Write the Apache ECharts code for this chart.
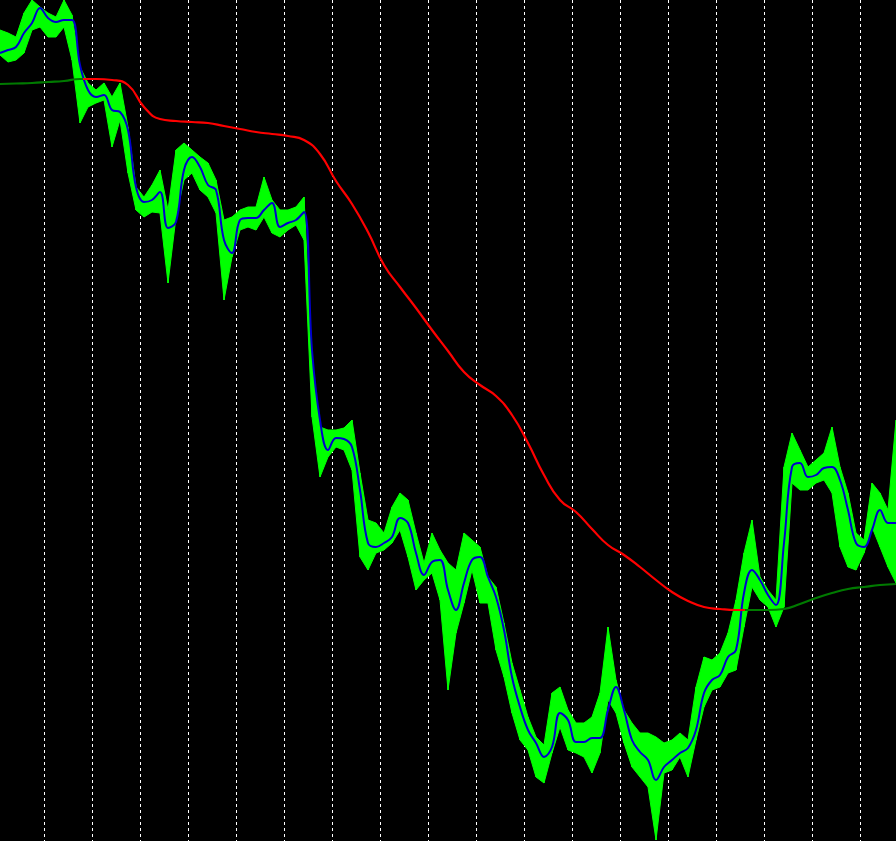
<!DOCTYPE html>
<html>
<head>
<meta charset="utf-8">
<script src="https://cdn.jsdelivr.net/npm/echarts@6/dist/echarts.min.js"></script>
<style>
html,body{margin:0;padding:0;background:#000;overflow:hidden;width:896px;height:841px;}
#chart{width:900px;height:841px;margin-left:-4px;}
</style>
</head>
<body>
<div id="chart"></div>
<script>
// Price bars sampled every 8 time units (top = high, bottom = low; axis runs downward)
const barHigh = [30,33,37,13,0,7,13,17,0,15,67,83,90,83,97,83,127,187,197,185,170,210,150,143,150,157,163,180,220,217,210,207,207,177,200,210,210,207,197,360,427,430,430,428,420,473,520,523,533,507,493,500,533,563,533,550,563,570,533,540,547,577,587,623,663,690,717,737,745,693,687,710,723,723,717,693,627,680,710,723,733,733,737,743,740,733,740,687,657,660,653,633,600,553,520,577,590,600,467,433,450,467,460,453,427,467,493,533,540,483,493,510,420];
const barLow  = [55,62,60,53,30,27,37,37,27,60,123,107,103,100,147,120,173,210,217,212,213,283,217,180,173,190,197,213,300,257,230,227,230,217,233,237,230,225,240,417,477,457,447,450,470,557,570,553,550,543,530,557,590,580,573,600,690,633,603,570,603,603,650,677,713,740,750,777,783,753,727,750,753,757,773,753,700,713,743,767,777,787,840,773,770,757,777,740,707,690,687,673,670,627,587,600,607,627,607,483,490,490,483,480,493,547,567,570,553,527,547,567,583];
const fastMA  = [53,50,47,33,23,8,18,22,20,20,65,90,97,95,110,112,130,187,202,200,192,228,222,170,157,167,185,190,240,253,220,218,218,210,203,227,223,220,212,350,420,450,438,439,447,490,543,547,543,537,518,523,553,575,562,560,590,610,583,560,557,577,597,630,677,707,730,743,757,747,713,720,742,742,738,738,710,687,710,740,752,760,780,767,760,753,748,730,693,680,675,657,650,593,570,580,595,605,543,467,463,477,475,468,467,480,510,543,547,530,510,523,523];
// Long moving average sampled every 16 time units
const slowMA  = [84,83.5,83,82,81,79,79,80,85,107,119,121,122,123,126,129,132,134,136,140,154,181,204,232,265,287,308,330,351,372,385,396,415,443,475,500,512,529,545,555,567,580,592,601,607,609,610,610,610,609,604,598,593,589,587,585,584];
// spacing of vertical separators (time units)
const sepInterval = 48;
const T0 = 4, STEP = 8, STEP_SLOW = 16;

const bandData = barHigh.map((h, i) => [T0 + i * STEP, h, barLow[i]]);
const fastData = fastMA.map((v, i) => [T0 + i * STEP, v]);
const slowData = slowMA.map((v, i) => [T0 + i * STEP_SLOW, v]);

const chart = echarts.init(document.getElementById('chart'), null, {renderer: 'canvas'});
chart.setOption({
  backgroundColor: '#000000',
  animation: false,
  grid: {left: 0, right: 0, top: 0, bottom: 0, containLabel: false},
  xAxis: {
    type: 'value', min: 0, max: 900, interval: sepInterval,
    axisLine: {show: false}, axisTick: {show: false}, axisLabel: {show: false},
    splitLine: {show: true, lineStyle: {color: '#ffffff', width: 1, type: [3, 3]}}
  },
  yAxis: {
    type: 'value', min: 0, max: 841, inverse: true,
    axisLine: {show: false}, axisTick: {show: false}, axisLabel: {show: false},
    splitLine: {show: false}
  },
  visualMap: {
    show: false, type: 'piecewise', seriesIndex: 2, dimension: 0,
    pieces: [
      {lt: 87, color: '#007a00'},
      {gte: 87, lt: 749, color: '#ff0000'},
      {gte: 749, color: '#007a00'}
    ]
  },
  series: [
    {
      type: 'custom',
      data: bandData,
      encode: {x: 0, y: [1, 2]},
      clip: true,
      renderItem: function (params, api) {
        const i = params.dataIndex;
        if (i >= bandData.length - 1) return null;
        const a = bandData[i], b = bandData[i + 1];
        const p1 = api.coord([a[0], a[1]]);
        const p2 = api.coord([b[0], b[1]]);
        const p3 = api.coord([b[0], b[2]]);
        const p4 = api.coord([a[0], a[2]]);
        return {
          type: 'polygon',
          shape: {points: [p1, p2, p3, p4]},
          style: {fill: '#00ff00', stroke: '#00ff00', lineWidth: 1}
        };
      },
      z: 1
    },
    {
      type: 'line', data: fastData, smooth: 0.4, showSymbol: false, symbol: 'none',
      lineStyle: {color: '#0000cd', width: 2}, z: 3
    },
    {
      type: 'line', data: slowData, smooth: 0.5, showSymbol: false, symbol: 'none',
      lineStyle: {width: 2.2}, z: 4
    }
  ]
});
</script>
</body>
</html>
